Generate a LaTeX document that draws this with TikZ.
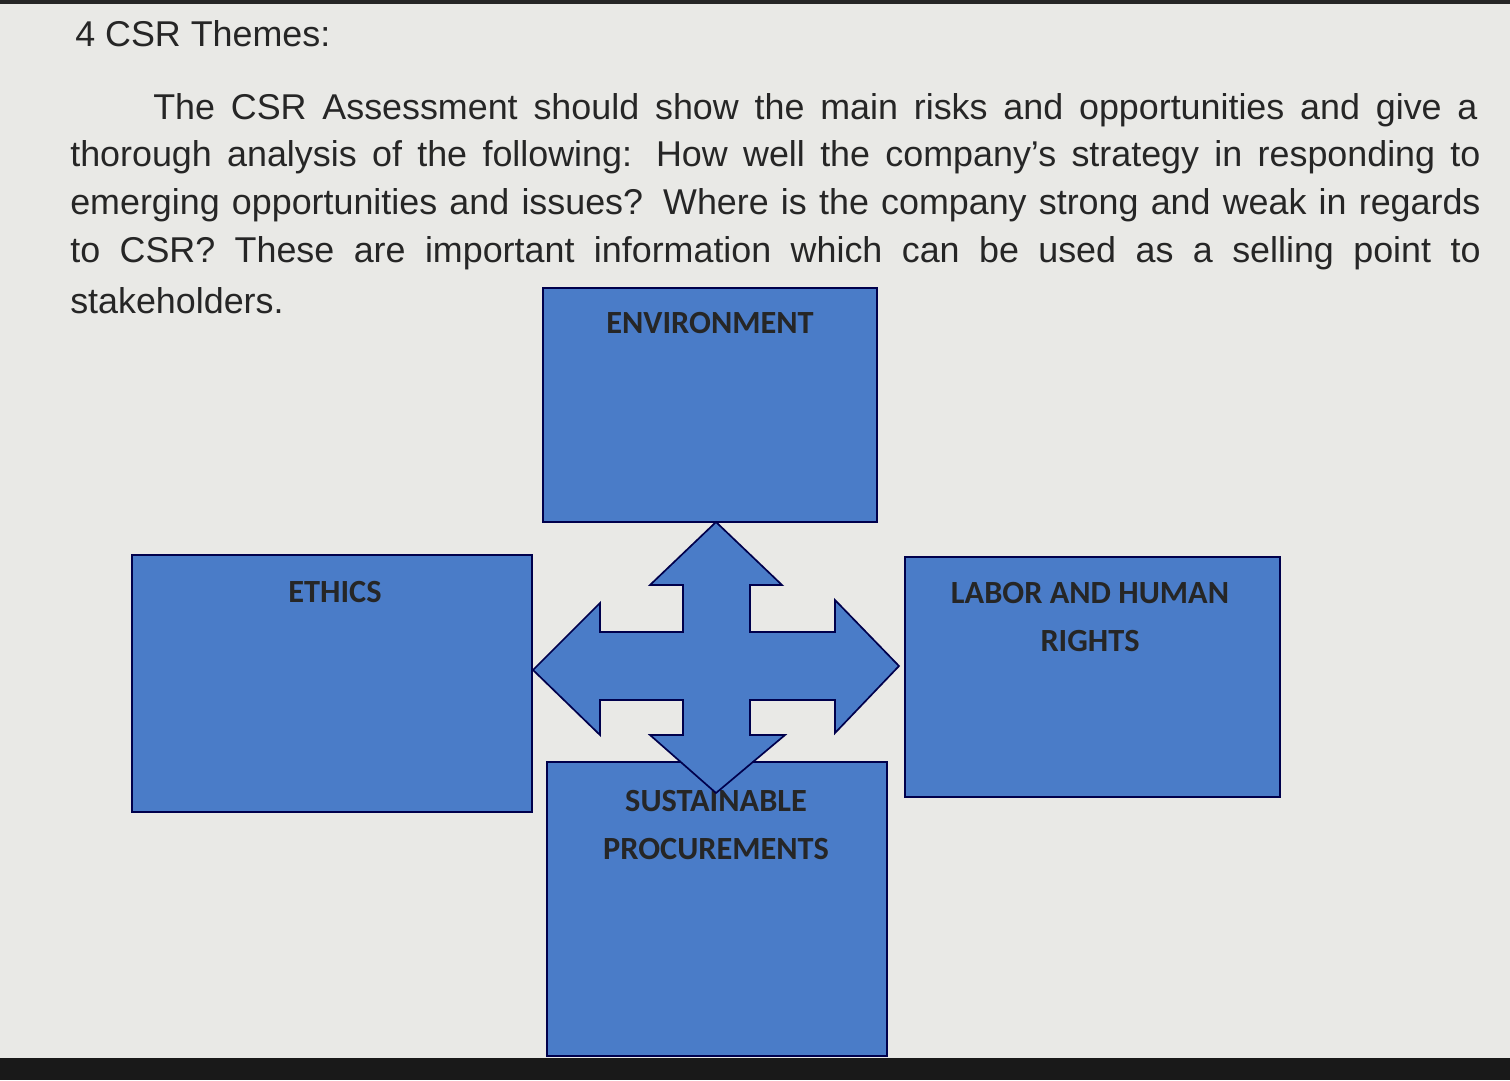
\documentclass[tikz,border=0pt]{standalone}
\usepackage{fontspec}
\setmainfont{Liberation Sans}
\newfontfamily\boxfont{Carlito}
\begin{document}
\begin{tikzpicture}[x=0.025cm,y=-0.025cm,
  tbox/.style={draw=black!70!blue,line width=1.2pt,fill=blueA},
  boxlab/.style={font=\boxfont\bfseries\fontsize{23}{34}\selectfont,text=black!85,align=center},
  para/.style={anchor=west,font=\fontsize{25.5}{30}\selectfont,text=black!85,inner sep=0pt}]
\definecolor{blueA}{HTML}{4A7CC8}
\definecolor{bgA}{HTML}{E9E9E6}
\fill[bgA] (0,0) rectangle (1510,1080);
\fill[black!85] (0,0) rectangle (1510,4);
\fill[black!90] (0,1058) rectangle (1510,1080);
\useasboundingbox (0,0) rectangle (1510,1080);
\node[para] (title) at (75,34) {4 CSR Themes:};
\node[para] (p1) at (153,110) {\makebox[33.1cm][s]{The CSR Assessment should show the main risks and opportunities and give a}};
\node[para] (p2) at (70,157) {\makebox[35.25cm][s]{thorough analysis of the following: How well the company's strategy in responding to}};
\node[para] (p3) at (70,205) {\makebox[35.25cm][s]{emerging opportunities and issues? Where is the company strong and weak in regards}};
\node[para] (p4) at (70,253) {\makebox[35.25cm][s]{to CSR? These are important information which can be used as a selling point to}};
\node[para] (p5) at (70,301) {stakeholders.};
\draw[tbox] (543,288) rectangle (877,522);
\node[boxlab] (env) at (710,323) {ENVIRONMENT};
\draw[tbox] (132,555) rectangle (532,812);
\node[boxlab] (eth) at (335,592) {ETHICS};
\draw[tbox] (905,557) rectangle (1280,797);
\node[boxlab] (lab) at (1090,617) {LABOR AND HUMAN\\RIGHTS};
\draw[tbox] (547,762) rectangle (887,1056);
\node[boxlab] (sus) at (716,825) {SUSTAINABLE\\PROCUREMENTS};
\draw[tbox,line join=miter] (716,522)--(782,585)--(750,585)--(750,632)--(835,632)--(835,600)--(899,666)--(835,733)--(835,700)--(750,700)--(750,735)--(785,735)--(716,793)--(650,735)--(683,735)--(683,700)--(600,700)--(600,735)--(533,670)--(600,603)--(600,632)--(683,632)--(683,585)--(650,585)--cycle;
\end{tikzpicture}
\end{document}
